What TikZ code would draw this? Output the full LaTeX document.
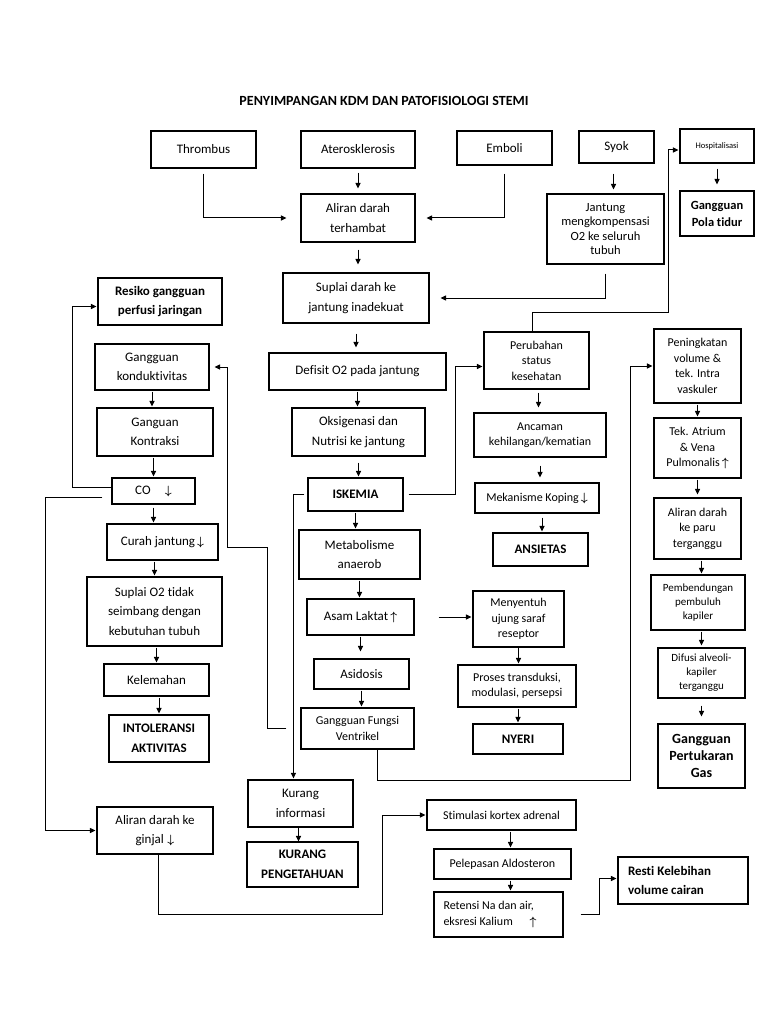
\documentclass[tikz,border=0pt]{standalone}
\usepackage{amsmath}
\usepackage{fontspec}
\setmainfont{Carlito}[Ligatures=NoCommon]
\usetikzlibrary{arrows.meta}
\tikzset{sz/.style n args={2}{minimum width=#1pt, minimum height=#2pt}}
\newcommand{\dnarr}{$\boldsymbol{\downarrow}$}
\newcommand{\uparr}{$\boldsymbol{\uparrow}$}

\begin{document}
\begin{tikzpicture}[
    x=1pt, y=-1pt,
    proc/.style={draw, line width=1.1pt, align=center, inner sep=1pt,
                 font=\fontsize{13}{19.5}\selectfont},
    procs/.style={proc, font=\fontsize{12}{15.5}\selectfont},
    proct/.style={proc, font=\fontsize{11}{14}\selectfont},
    dx/.style={proc, font=\fontsize{13}{19.5}\selectfont\bfseries},
    arr/.style={-{Triangle[length=5.5pt,width=5pt]}, line width=1pt,
                shorten <=1pt, shorten >=1pt},
  ]
  \fill[white] (0,0) rectangle (768,1024);
  \useasboundingbox (0,0) rectangle (768,1024);

  \node[font=\fontsize{14}{16}\selectfont\bfseries] (ttl) at (384,101)
    {PENYIMPANGAN KDM DAN PATOFISIOLOGI STEMI};

  % causes
  \node[proc, sz={105}{37}] (thr) at (203.5,149.5) {Thrombus};
  \node[proc, sz={114}{37}] (ate) at (358,149.5) {Aterosklerosis};
  \node[proc, sz={95}{34}] (emb) at (504.5,148) {Emboli};
  \node[proc, sz={75}{32}] (syo) at (616.5,147) {Syok};
  \node[proc, font=\fontsize{8.5}{10}\selectfont, sz={74}{34}] (hos) at (717,146) {Hospitalisasi};
  \node[proc, sz={114}{48}] (ali) at (358,218) {Aliran darah\\terhambat};
  \node[procs, font=\fontsize{12.5}{14.5}\selectfont, sz={117}{70}] (jan) at (605.5,229)
    {Jantung\\mengkompensasi\\O2 ke seluruh\\tubuh};
  \node[dx, font=\fontsize{12.5}{17}\selectfont\bfseries, sz={74}{45}] (gpt) at (717,213.5) {Gangguan\\Pola tidur};
  \node[proc, sz={146}{50}] (sup) at (356,298) {Suplai darah ke\\jantung inadekuat};

  % centre column
  \node[proc, sz={177}{37}] (def) at (357.5,371.5) {Defisit O2 pada jantung};
  \node[proc, sz={133}{48}] (oks) at (358.5,432) {Oksigenasi dan\\Nutrisi ke jantung};
  \node[dx, sz={95}{33}] (isk) at (355.5,494.5) {ISKEMIA};
  \node[proc, sz={121}{49}] (met) at (359.5,554.5) {Metabolisme\\anaerob};
  \node[proc, sz={107}{36}] (asm) at (360.5,617) {Asam Laktat\,\uparr};
  \node[proc, sz={95}{30}] (asd) at (361.5,674) {Asidosis};
  \node[procs, sz={113}{41}] (gfv) at (357.5,728.5) {Gangguan Fungsi\\Ventrikel};
  \node[proc, sz={105}{47}] (kin) at (300.5,803.5) {Kurang\\informasi};
  \node[dx, sz={111}{45}] (kpe) at (302.5,864.5) {KURANG\\PENGETAHUAN};

  % left column
  \node[dx, sz={124}{47}] (rsk) at (160,301.5) {Resiko gangguan\\perfusi jaringan};
  \node[proc, sz={114}{46}] (gko) at (152,367) {Gangguan\\konduktivitas};
  \node[proc, sz={116}{48}] (gkn) at (155,432) {Ganguan\\Kontraksi};
  \node[proc, sz={83}{26}] (co) at (153.5,491) {CO\hspace{1.1em}\dnarr};
  \node[proc, sz={111}{36}] (cur) at (162.5,542) {Curah jantung\,\dnarr};
  \node[proc, sz={135}{69}] (so2) at (154.5,611.5) {Suplai O2 tidak\\seimbang dengan\\kebutuhan tubuh};
  \node[proc, sz={105}{32}] (kel) at (156.5,680) {Kelemahan};
  \node[dx, sz={100}{47}] (int) at (159,738.5) {INTOLERANSI\\AKTIVITAS};
  \node[proc, sz={116}{47}] (gin) at (155,830.5) {Aliran darah ke\\ginjal\;\dnarr};

  % anxiety and pain
  \node[procs, sz={105}{57}] (per) at (536.5,360.5) {Perubahan\\status\\kesehatan};
  \node[procs, sz={132}{44}] (anc) at (540,435) {Ancaman\\kehilangan/kematian};
  \node[procs, sz={124}{30}] (mek) at (537,498) {Mekanisme Koping\,\dnarr};
  \node[dx, sz={95}{33}] (ans) at (540.5,549.5) {ANSIETAS};
  \node[procs, sz={91}{56}] (men) at (518.5,619) {Menyentuh\\ujung saraf\\reseptor};
  \node[procs, sz={118}{42}] (pro) at (517,686) {Proses transduksi,\\modulasi, persepsi};
  \node[dx, sz={90}{30}] (nye) at (518,739) {NYERI};

  % right column
  \node[procs, sz={87}{74}] (pen) at (697.5,366) {Peningkatan\\volume \&\\tek. Intra\\vaskuler};
  \node[procs, sz={87}{60}] (tek) at (697.5,448) {Tek. Atrium\\\& Vena\\Pulmonalis\,\uparr};
  \node[procs, sz={87}{61}] (apr) at (697.5,528.5) {Aliran darah\\ke paru\\terganggu};
  \node[proct, sz={94}{55}] (pem) at (698,602.5) {Pembendungan\\pembuluh\\kapiler};
  \node[proct, sz={87}{50}] (dif) at (701.5,673) {Difusi alveoli-\\kapiler\\terganggu};
  \node[dx, font=\fontsize{14}{17}\selectfont\bfseries, sz={87}{64}] (gpg) at (701.5,756) {Gangguan\\Pertukaran\\Gas};

  % kidney
  \node[procs, sz={149}{30}] (sti) at (501.5,815) {Stimulasi kortex adrenal};
  \node[procs, sz={137}{30}] (pel) at (502.5,864) {Pelepasan Aldosteron};
  \node[procs, align=flush left, text width=110pt, sz={129}{45}] (ret) at (498.5,914.5)
    {Retensi Na dan air,\\eksresi Kalium\hspace{1.4em}\uparr};
  \node[dx, align=flush left, text width=110pt, sz={130}{47}] (rkv) at (683,880.5)
    {Resti Kelebihan\\volume cairan};

  % straight arrows
  \draw[arr, shorten <=4pt, shorten >=5pt] (ate) -- (ali);
  \draw[arr, shorten <=7pt, shorten >=8pt] (ali.south) -- (ali.south |- sup.north);
  \draw[arr, shorten <=10pt, shorten >=5pt] (sup.south) -- (sup.south |- def.north);
  \draw[arr] (def.south) -- (def.south |- oks.north);
  \draw[arr, shorten <=6pt] (oks.south) -- (oks.south |- isk.north);
  \draw[arr] (isk.south) -- (isk.south |- met.north);
  \draw[arr] (met.south) -- (met.south |- asm.north);
  \draw[arr, shorten >=7pt] (asm.south) -- (asm.south |- asd.north);
  \draw[arr] (asd.south) -- (asd.south |- gfv.north);
  \draw[arr, shorten <=10pt, shorten >=4pt] ([shift={(-3,0)}]syo.south) -- ([shift={(-3,0)}]syo.south |- jan.north);
  \draw[arr, shorten <=5pt, shorten >=6pt] (hos.south) -- (hos.south |- gpt.north);
  \draw[arr] (gko) -- (gkn.north -| gko);
  \draw[arr] (gkn.south -| co) -- (co);
  \draw[arr, shorten <=3pt] (co) -- (co |- cur.north);
  \draw[arr] (so2.north |- cur.south) -- (so2);
  \draw[arr] (so2.south -| kel) -- (kel);
  \draw[arr] (kel.south -| int) -- (int);
  \draw[arr, shorten <=0pt, shorten >=0pt] ([shift={(-2,0)}]kin.south) -- ([shift={(-2,0)}]kin.south |- kpe.north);
  \draw[arr, shorten <=3pt, shorten >=5pt] ([shift={(2,0)}]per.south) -- ([shift={(2,0)}]per.south |- anc.north);
  \draw[arr, shorten <=8pt, shorten >=5pt] ([shift={(3,0)}]mek.north |- anc.south) -- ([shift={(3,0)}]mek.north);
  \draw[arr, shorten <=4pt] ([shift={(5,0)}]mek.south) -- ([shift={(5,0)}]mek.south |- ans.north);
  \draw[arr, shorten <=0pt] (men) -- (men |- pro.north);
  \draw[arr] (nye.north |- pro.south) -- (nye);
  \draw[arr] (pen) -- (pen |- tek.north);
  \draw[arr, shorten >=3pt] (tek) -- (tek |- apr.north);
  \draw[arr] (dif.north |- apr.south) -- (dif.north |- pem.north);
  \draw[arr, shorten >=2pt] (pem.south -| dif) -- (dif);
  \draw[arr, shorten <=7pt, shorten >=7pt] (dif) -- (gpg);
  \draw[arr] ([shift={(9,0)}]sti.south) -- ([shift={(9,0)}]sti.south |- pel.north);
  \draw[arr] ([shift={(8,0)}]pel.south) -- ([shift={(8,0)}]pel.south |- ret.north);

  % elbow connectors
  \draw[arr, shorten <=5pt, shorten >=14pt] (thr) |- (ali);
  \draw[arr, shorten <=8pt, shorten >=11pt] (emb) |- (ali);
  \draw[arr, shorten <=9pt, shorten >=11pt] (jan) |- (sup);
  \draw[arr, shorten <=0pt] ([shift={(-4,0)}]per.north) -- ++(0,-19) -| ([shift={(-11,4)}]hos.west) -- ([shift={(0,4)}]hos.west);
  \draw[arr, shorten <=0pt] ([shift={(0,-4)}]co.west) -- ++(-39,0) |- ([shift={(0,5)}]rsk.west);
  \draw[arr, shorten <=9pt] ([shift={(0,6)}]co.west) -- ++(-66,0) |- (gin.west);
  \draw[arr, shorten <=14pt, shorten >=5pt] (gfv.west) -- ++(-33,0) |- ([shift={(18,180)}]gko.east) |- (gko.east);
  \draw[arr, shorten <=3pt] (isk.west) -- ++(-14,0) coordinate (iskl) -- (iskl |- kin.north);
  \draw[arr, shorten <=5pt] (isk.east) -- ++(52,0) |- ([shift={(0,6)}]per.west);
  \draw[arr, shorten <=0pt] ([shift={(20,0)}]gfv.south) -- ++(0,31) -| ([shift={(-23,0)}]pen.west) -- (pen.west);
  \draw[arr, shorten <=24pt] (asm.east) -- (asm.east -| men.west);
  \draw[arr, shorten <=0pt] ([shift={(3,0)}]gin.south) -- ++(0,60) -| ([shift={(-44,0)}]sti.west) -- (sti.west);
  \draw[arr, shorten <=17pt] (ret.east) -- ++(36,0) |- ([shift={(0,-2)}]rkv.west);
\end{tikzpicture}
\end{document}
